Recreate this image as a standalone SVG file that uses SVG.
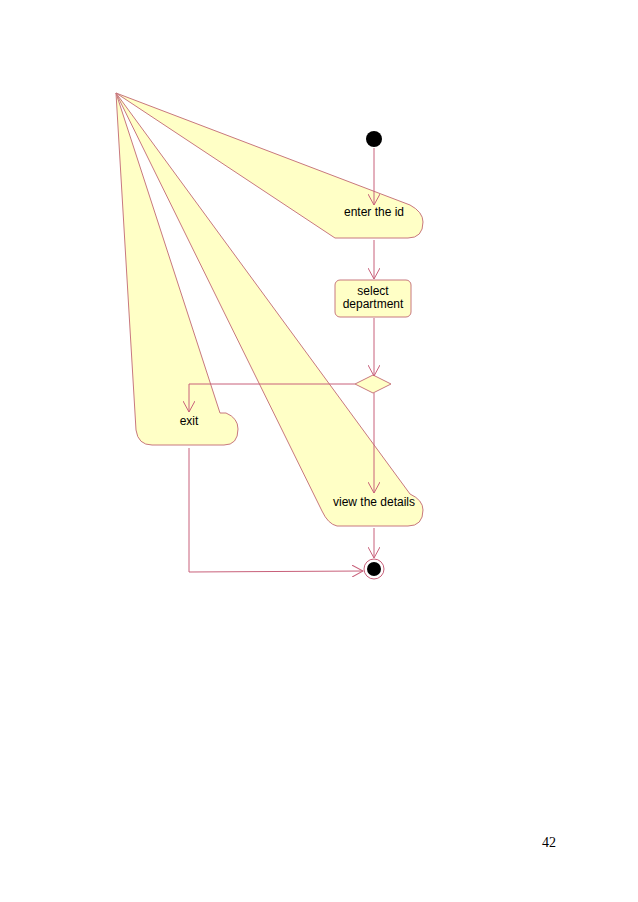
<svg xmlns="http://www.w3.org/2000/svg" width="638" height="902" viewBox="0 0 638 902">
<style>
.n{fill:#ffffc6;stroke:#c8787e;stroke-width:1}
.c{fill:none;stroke:#c8607a;stroke-width:1;marker-end:url(#a)}
text{font-family:"Liberation Sans",Arial,sans-serif;font-size:12px;fill:#000;text-anchor:middle}
</style>
<defs><marker id="a" viewBox="0 0 12 12" refX="11" refY="6" markerWidth="12" markerHeight="12" markerUnits="userSpaceOnUse" orient="auto"><path d="M0,0 L11,6 L0,12" fill="none" stroke="#c8607a"/></marker></defs>
<rect width="638" height="902" fill="#fff"/>
<g id="exit"><path class="n" d="M116,93 L220,413 L226,413 Q238,418 238,429 Q238,445 224,445 L152,445 Q138,445 136,430 Z"/><text x="189" y="425">exit</text></g>
<g id="view"><path class="n" d="M116,93 L410,494 Q423,500 423,510 Q423,526 408,526 L337,526 Q328,524 322,511 Z"/><text x="374" y="506">view the details</text></g>
<g id="enter"><path class="n" d="M116,93 L410,205 Q423,212 423,222 Q423,238 408,238 L335,238 Z"/><text x="374" y="216">enter the id</text></g>
<g id="select"><rect class="n" x="335" y="280" width="76" height="37" rx="5"/><text x="373" y="295">select</text><text x="373" y="308">department</text></g>
<g id="start"><circle cx="374" cy="139" r="8" fill="#000"/></g>
<g id="decision"><path class="n" d="M355,384 L373,375 L391,384 L373,393 Z"/></g>
<g id="end"><circle cx="374" cy="569" r="10" fill="#fff" stroke="#c8607a"/><circle cx="374" cy="569" r="7" fill="#000"/></g>
<g id="connectors">
<path class="c" d="M374,148 V205"/>
<path class="c" d="M374,240 V279"/>
<path class="c" d="M374,318 V376"/>
<path class="c" d="M355,384 H189 V412"/>
<path class="c" d="M374,393 V493"/>
<path class="c" d="M374,528 V558"/>
<path class="c" d="M189,448 V572 L363,571"/>
</g>
<text x="549" y="847" style="font-family:'Liberation Serif',serif;font-size:14px">42</text>
</svg>
